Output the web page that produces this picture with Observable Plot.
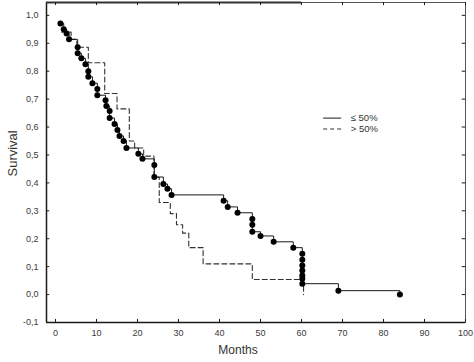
<!DOCTYPE html>
<html>
<head>
<meta charset="utf-8">
<script src="https://cdn.jsdelivr.net/npm/d3@7"></script>
<script src="https://cdn.jsdelivr.net/npm/@observablehq/plot@0.6"></script>
<style>
  html, body { margin: 0; padding: 0; background: #fff; }
  #chart { width: 474px; height: 362px; }
</style>
</head>
<body>
<div id="chart"></div>
<script>
// Group "≤ 50%" (solid line, filled markers)
const lowTime = [1.2, 2.0, 2.7, 3.3, 5.4, 5.4, 6.3, 7.3, 8.0, 8.0, 9.0, 10.2, 10.2,
  12.2, 12.4, 13.2, 13.2, 14.4, 15.1, 15.6, 16.6, 17.3, 20.2, 21.2, 24.1, 24.1,
  26.3, 27.3, 28.3, 41.0, 42.0, 44.4, 48.0, 48.0, 48.0, 50.0, 53.2, 58.0,
  60.2, 60.2, 60.2, 60.2, 60.2, 60.2, 60.2, 69.0, 84.0];
const lowSurv = [0.971, 0.95, 0.935, 0.914, 0.886, 0.864, 0.846, 0.825, 0.80, 0.78, 0.757, 0.736, 0.714,
  0.696, 0.675, 0.657, 0.632, 0.611, 0.589, 0.568, 0.55, 0.525, 0.504, 0.486, 0.464, 0.421,
  0.396, 0.379, 0.357, 0.336, 0.314, 0.293, 0.271, 0.25, 0.225, 0.21, 0.189, 0.168,
  0.146, 0.125, 0.104, 0.086, 0.068, 0.057, 0.039, 0.014, 0.0];

// Group "> 50%" (dashed line)
const highTime = [1.5, 3.8, 5.2, 8.0, 12.0, 15.0, 18.0, 19.3, 21.5, 24.0, 25.3, 28.0, 29.5, 31.0, 32.5, 36.0, 48.0, 60.5];
const highSurv = [0.94, 0.914, 0.886, 0.83, 0.72, 0.665, 0.55, 0.525, 0.496, 0.42, 0.33, 0.29, 0.25, 0.22, 0.168, 0.11, 0.054, 0.0];

const seriesLabels = ["≤ 50%", "> 50%"];
const xTicks = [0, 10, 20, 30, 40, 50, 60, 70, 80, 90, 100];
const yTicks = [-0.1, 0.0, 0.1, 0.2, 0.3, 0.4, 0.5, 0.6, 0.7, 0.8, 0.9, 1.0];
const xLabel = "Months";
const yLabel = "Survival";

const low = lowTime.map((t, i) => ({t, s: lowSurv[i]}));
const high = highTime.map((t, i) => ({t, s: highSurv[i]}));

const xDom = [-2.2, 100];
const yDom = [-0.1, 1.046];
const tickLenX = 0.8;   // inward tick length in x units
const tickLenY = 0.011; // inward tick length in y units
const fmt = d => d.toFixed(1).replace(".", ",");
const ink = "#1a1a1a";

// legend placement (data units)
const legX1 = 65.4, legX2 = 69.8, legTextX = 72, legY1 = 0.632, legY2 = 0.593;

const chart = Plot.plot({
  width: 474,
  height: 362,
  marginLeft: 46,
  marginRight: 9,
  marginTop: 2,
  marginBottom: 40,
  x: {domain: xDom},
  y: {domain: yDom},
  style: {fontFamily: "'Liberation Sans', Arial, sans-serif", background: "#fff", color: "#333"},
  marks: [
    // frame
    Plot.frame({stroke: "#555", strokeWidth: 1}),
    Plot.ruleX([xDom[0]], {stroke: ink, strokeWidth: 1.5}),
    Plot.ruleY([yDom[0]], {stroke: ink, strokeWidth: 1.5}),
    Plot.ruleY([yDom[1]], {x1: xDom[0], x2: 60, stroke: "#333", strokeWidth: 2.2}),
    // inward ticks
    Plot.ruleX(xTicks, {x: d => d, y1: yDom[0], y2: yDom[0] + tickLenY, stroke: ink}),
    Plot.ruleX(xTicks, {x: d => d, y1: yDom[1], y2: yDom[1] - tickLenY, stroke: ink}),
    Plot.ruleY(yTicks, {y: d => d, x1: xDom[0], x2: xDom[0] + tickLenX, stroke: ink}),
    Plot.ruleY(yTicks, {y: d => d, x1: xDom[1], x2: xDom[1] - tickLenX, stroke: ink}),
    // axes labels
    Plot.axisX(xTicks, {tickSize: 0, tickPadding: 7, fontSize: 9, fill: "#3a3a3a", label: null}),
    Plot.axisY(yTicks, {tickSize: 0, tickPadding: 8, fontSize: 9, fill: "#3a3a3a", tickFormat: fmt, label: null}),
    Plot.text([xLabel], {frameAnchor: "bottom", dx: -18, dy: 31, fontSize: 12, fill: "#333"}),
    Plot.text([yLabel], {frameAnchor: "left", dx: -34, dy: 14, rotate: -90, fontSize: 13, fill: "#333"}),
    // curves
    Plot.line(high, {x: "t", y: "s", curve: "step-after", stroke: "#333", strokeWidth: 1.1, strokeDasharray: "5,3"}),
    Plot.line(low, {x: "t", y: "s", curve: "step-after", stroke: ink, strokeWidth: 1}),
    Plot.dot(low, {x: "t", y: "s", r: 3, fill: "#000", stroke: "none"}),
    // legend
    Plot.ruleY([legY1], {x1: legX1, x2: legX2, stroke: ink, strokeWidth: 1}),
    Plot.ruleY([legY2], {x1: legX1, x2: legX2, stroke: "#333", strokeWidth: 1, strokeDasharray: "4,3"}),
    Plot.text([seriesLabels[0]], {x: legTextX, y: legY1, textAnchor: "start", fontSize: 9.5, fill: "#333"}),
    Plot.text([seriesLabels[1]], {x: legTextX, y: legY2, textAnchor: "start", fontSize: 9.5, fill: "#333"})
  ]
});
document.getElementById("chart").appendChild(chart);
</script>
</body>
</html>
